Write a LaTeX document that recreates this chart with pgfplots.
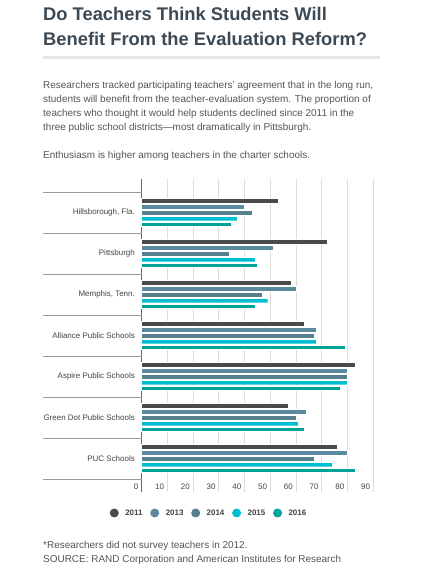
\documentclass[border=0pt]{standalone}
\usepackage{pgfplots}
\pgfplotsset{compat=1.18}
\usepackage{pgfplotstable}
\usepackage{fontspec}
\setmainfont{Liberation Sans}

\definecolor{c2011}{HTML}{4A4A4A}
\definecolor{c2013}{HTML}{5B8A9E}
\definecolor{c2014}{HTML}{57808F}
\definecolor{c2015}{HTML}{00BED2}
\definecolor{c2016}{HTML}{00A398}
\definecolor{titlec}{HTML}{3D4A54}
\definecolor{bodyc}{HTML}{555555}
\definecolor{gridc}{HTML}{DCDCDC}
\definecolor{sepc}{HTML}{9A9A9A}
\definecolor{axc}{HTML}{666666}
\definecolor{rulec}{HTML}{E6E6E6}
\definecolor{tickc}{HTML}{444444}

% share of teachers who agree, per group (6 = top row)
\pgfplotstableread{
y v2011 v2013 v2014 v2015 v2016
6 53 40 43 37 35
5 72 51 34 44 45
4 58 60 47 49 44
3 63 68 67 68 79
2 83 80 80 80 77
1 57 64 60 61 63
0 76 80 67 74 83
}\datatable

\begin{document}
\begin{tikzpicture}
\path[fill=white] (0,0) rectangle (425bp,-566bp);

\node[anchor=base west, inner sep=0pt, text=titlec, font=\fontsize{18.4}{22}\selectfont\bfseries] at (43bp,-20.7bp) {Do Teachers Think Students Will};
\node[anchor=base west, inner sep=0pt, text=titlec, font=\fontsize{18.4}{22}\selectfont\bfseries] at (43bp,-45.6bp) {Benefit From the Evaluation Reform?};
\fill[rulec] (43bp,-56bp) rectangle (380bp,-59bp);

\begin{scope}[every node/.style={anchor=base west, inner sep=0pt, text=bodyc, font=\fontsize{10}{12}\selectfont}]
\node at (43bp,-88.5bp) {Researchers tracked participating teachers’ agreement that in the long run,};
\node at (43bp,-102.5bp) {students will benefit from the teacher-evaluation system. The proportion of};
\node at (43bp,-116.5bp) {teachers who thought it would help students declined since 2011 in the};
\node at (43bp,-130.5bp) {three public school districts—most dramatically in Pittsburgh.};
\node at (43bp,-158.5bp) {Enthusiasm is higher among teachers in the charter schools.};
\node at (43bp,-548.3bp) {*Researchers did not survey teachers in 2012.};
\node at (43bp,-562.7bp) {SOURCE: RAND Corporation and American Institutes for Research};
\end{scope}

\begin{axis}[
  at={(141.5bp,-492bp)}, anchor=south west,
  scale only axis, width=231.8bp, height=313bp,
  xmin=0, xmax=90, ymin=-0.817, ymax=6.817,
  xtick={0,10,...,90},
  ytick={0,...,6},
  yticklabels={PUC Schools, Green Dot Public Schools, Aspire Public Schools, Alliance Public Schools, {Memphis, Tenn.}, Pittsburgh, {Hillsborough, Fla.}},
  xmajorgrids, grid style={gridc, line width=0.8bp},
  major tick length=0pt,
  separate axis lines,
  axis x line*=bottom, x axis line style={draw=none},
  axis y line*=left, y axis line style={draw=axc, line width=1bp, -},
  /pgf/number format/assume math mode=true,
  tick label style={font=\fontsize{8}{9}\selectfont, text=tickc},
  xticklabel style={anchor=east, inner sep=1bp, xshift=-2bp, yshift=5bp},
  yticklabel style={anchor=east, inner sep=0pt, xshift=-6.5bp},
  clip=false,
  legend columns=5,
  legend image code/.code={\fill[#1, draw=none] (0bp,0bp) circle (4.5bp);},
  legend style={at={(0.287,-0.067)}, anchor=center, draw=none, fill=none,
    font=\fontsize{8}{9}\selectfont\bfseries, text=tickc,
    nodes={inner sep=0pt},
    /tikz/every odd column/.append style={column sep=6.5bp},
    /tikz/every even column/.append style={column sep=7.7bp}},
  every axis plot/.append style={xbar, bar width=4.6bp, draw=white, line width=0.3bp},
]
\addplot[fill=c2011, bar shift=11.8bp] table[x=v2011, y=y] {\datatable};
\addplot[fill=c2013, bar shift=5.9bp] table[x=v2013, y=y] {\datatable};
\addplot[fill=c2014, bar shift=0bp] table[x=v2014, y=y] {\datatable};
\addplot[fill=c2015, bar shift=-5.9bp] table[x=v2015, y=y] {\datatable};
\addplot[fill=c2016, bar shift=-11.8bp] table[x=v2016, y=y] {\datatable};
\legend{2011,2013,2014,2015,2016}
\pgfplotsinvokeforeach{-0.5,0.5,...,6.5}{
  \draw[sepc, line width=0.6bp] (axis cs:0,#1) -- ++(-98.5bp,0bp);
}
\end{axis}
\end{tikzpicture}
\end{document}
